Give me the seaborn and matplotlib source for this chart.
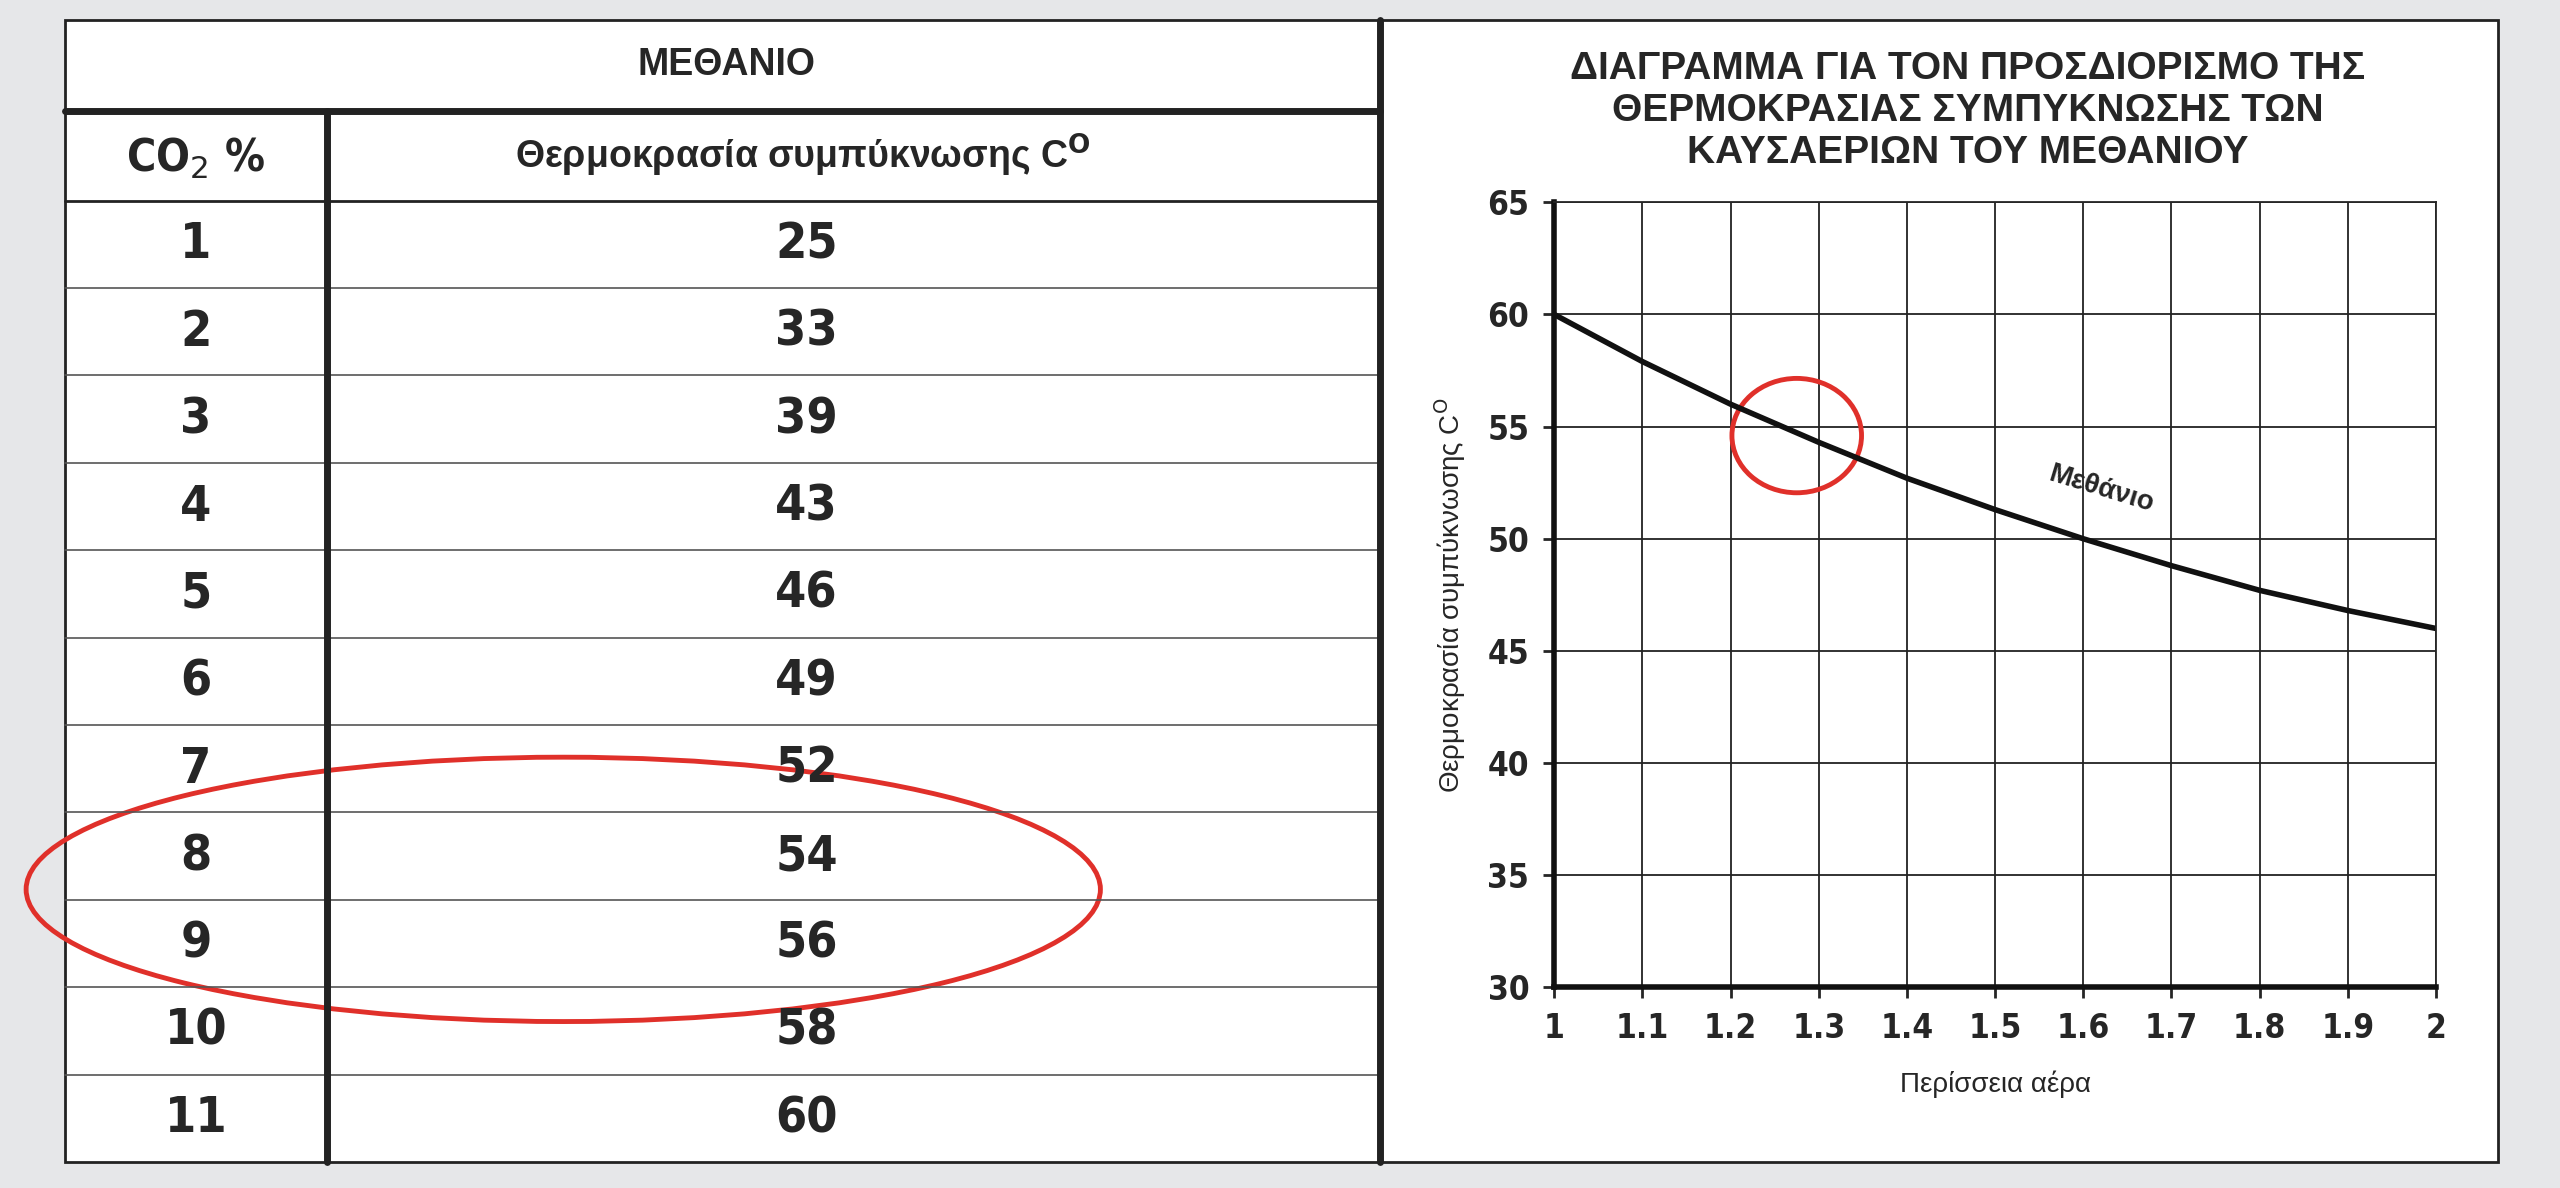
import matplotlib
matplotlib.use("Agg")
import matplotlib.pyplot as plt
import seaborn as sns
import pandas as pd
import numpy as np
from matplotlib.patches import Ellipse, Rectangle

# table data
co2_pct = [1, 2, 3, 4, 5, 6, 7, 8, 9, 10, 11]
cond_temp = [25, 33, 39, 43, 46, 49, 52, 54, 56, 58, 60]

# curve data (excess air vs condensation temperature)
excess_air = [1.0, 1.1, 1.2, 1.3, 1.4, 1.5, 1.6, 1.7, 1.8, 1.9, 2.0]
curve_temp = [60.0, 57.9, 56.0, 54.3, 52.7, 51.3, 50.0, 48.8, 47.7, 46.8, 46.0]

sns.set_style("white")
plt.rcParams['font.family'] = ['Liberation Sans', 'DejaVu Sans']
COND = ['DejaVu Sans']

fig = plt.figure(figsize=(25.6, 11.88), dpi=100)
fig.patch.set_facecolor("#e6e7e9")

# background axes in reference pixel coords (1568 x 728)
bg = fig.add_axes([0, 0, 1, 1])
bg.set_xlim(0, 1568)
bg.set_ylim(728, 0)
bg.axis("off")
bg.add_patch(Rectangle((40, 12), 1490, 700, facecolor="white", edgecolor="#222222", lw=2))

# table lines
row_top = 123
row_h = (712 - 123) / 11
bg.plot([40, 845], [68, 68], color="#222222", lw=5)
bg.plot([40, 845], [123, 123], color="#222222", lw=2)
for i in range(1, 11):
    y = row_top + i * row_h
    bg.plot([40, 845], [y, y], color="#555555", lw=1.2)
bg.plot([200, 200], [68, 712], color="#222222", lw=5)
bg.plot([845, 845], [12, 712], color="#222222", lw=5)

bg.text(445, 40, "ΜΕΘΑΝΙΟ", ha="center", va="center", fontsize=27, fontweight="bold")
bg.text(120, 97, "CO$_2$ %", ha="center", va="center", fontsize=32, fontweight="bold",
        family=COND, fontstretch="condensed")
bg.text(492, 95, "Θερμοκρασία συμπύκνωσης C$^{\\mathbf{O}}$", ha="center", va="center",
        fontsize=27, fontweight="bold")
for i, (c, t) in enumerate(zip(co2_pct, cond_temp)):
    yc = row_top + (i + 0.5) * row_h
    bg.text(120, yc, str(c), ha="center", va="center", fontsize=36, fontweight="bold",
            family=COND, fontstretch="condensed")
    bg.text(494, yc, str(t), ha="center", va="center", fontsize=36, fontweight="bold",
            family=COND, fontstretch="condensed")

bg.add_patch(Ellipse((345, 545), 658, 162, fill=False, edgecolor="#e0302a", lw=3.5))

# chart title
bg.text(1205, 68, "ΔΙΑΓΡΑΜΜΑ ΓΙΑ ΤΟΝ ΠΡΟΣΔΙΟΡΙΣΜΟ ΤΗΣ\nΘΕΡΜΟΚΡΑΣΙΑΣ ΣΥΜΠΥΚΝΩΣΗΣ ΤΩΝ\nΚΑΥΣΑΕΡΙΩΝ ΤΟΥ ΜΕΘΑΝΙΟΥ",
        ha="center", va="center", fontsize=28, fontweight="bold", linespacing=1.2)

# chart
ax = fig.add_axes([952 / 1568, 1 - 605 / 728, (1492 - 952) / 1568, (605 - 124) / 728])
df = pd.DataFrame({"air": excess_air, "temp": curve_temp})
sns.lineplot(data=df, x="air", y="temp", ax=ax, color="#111111", lw=4)
ax.set_xlim(1, 2)
ax.set_ylim(30, 65)
ax.set_xticks(np.arange(1, 2.01, 0.1))
ax.set_xticklabels(["1", "1.1", "1.2", "1.3", "1.4", "1.5", "1.6", "1.7", "1.8", "1.9", "2"])
ax.set_yticks(range(30, 66, 5))
ax.grid(True, color="#222222", lw=1.3)
for s in ["top", "right"]:
    ax.spines[s].set_linewidth(1.3)
for s in ["left", "bottom"]:
    ax.spines[s].set_linewidth(4)
    ax.spines[s].set_color("#111111")
ax.tick_params(axis="both", length=8, width=2, labelsize=24, pad=10, bottom=True, left=True)
for lab in ax.get_xticklabels() + ax.get_yticklabels():
    lab.set_fontweight("bold")
    lab.set_family(COND)
    lab.set_fontstretch("condensed")
ax.set_xlabel("Περίσσεια αέρα", fontsize=20, labelpad=18)
ax.set_ylabel("Θερμοκρασία συμπύκνωσης C$^{\\mathrm{O}}$", fontsize=20, labelpad=14)
ax.text(1.62, 52.2, "Μεθάνιο", rotation=-17, fontsize=20, fontweight="bold",
        ha="center", va="center")
ax.add_patch(Ellipse((1.275, 54.6), 0.147, 5.1, fill=False, edgecolor="#e0302a", lw=3.5))

fig.savefig("out.png", dpi=100, facecolor=fig.get_facecolor())
